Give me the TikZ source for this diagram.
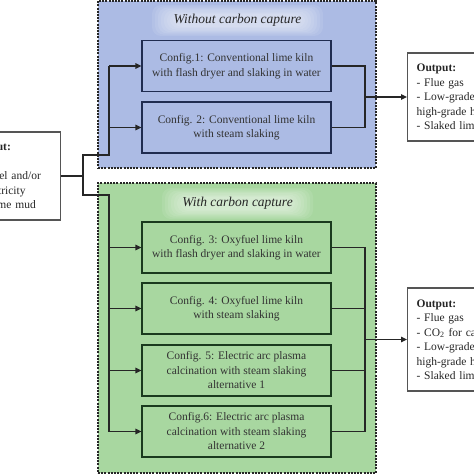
\documentclass[tikz,border=0pt]{standalone}
\usepackage{fontspec}
\setmainfont{Liberation Serif}
\usetikzlibrary{arrows.meta}
\definecolor{wofill}{RGB}{172,187,228}
\definecolor{wfill}{RGB}{168,215,160}
\definecolor{woline}{RGB}{32,44,80}
\definecolor{wline}{RGB}{26,58,30}
\definecolor{ioline}{RGB}{85,85,85}

\begin{document}
\begin{tikzpicture}[x=1pt, y=-1pt,
  region/.style={rectangle, draw=black!85, line width=1.6pt,
                 dash pattern=on 2pt off 1.2pt, inner sep=0pt},
  cfg/.style={rectangle, draw, line width=1.2pt, minimum width=189pt,
              minimum height=51pt, align=center, inner sep=2pt, text=black!80,
              font=\fontsize{11.5}{14.5}\selectfont},
  iobox/.style={rectangle, draw=ioline, line width=1.1pt, anchor=west,
                align=left, inner xsep=9pt, text=black!85,
                font=\fontsize{11.5}{14.5}\selectfont},
  ttl/.style={font=\fontsize{13.5}{16}\selectfont\itshape, text=black!85},
  glow/.style={fill=white, opacity=0.09, rounded corners=9pt},
  ln/.style={line width=1.2pt, draw=black!85},
  arr/.style={ln, -{Triangle[length=6pt,width=5.5pt]}}]

\useasboundingbox (0,0) rectangle (474,474);

%% Regions
\node[region, fill=wofill, minimum width=278pt, minimum height=167pt] (wo) at (237,84.5) {};
\node[region, fill=wfill, minimum width=278pt, minimum height=290pt] (wi) at (237,328) {};
\foreach \i in {0,...,7} {
  \fill[glow] (152+\i*3,5+\i*1.3) rectangle (323-\i*3,36-\i*1.3);
  \fill[glow] (162+\i*3,188+\i*1.3) rectangle (313-\i*3,219-\i*1.3);
}
\node[ttl] (two) at (237.5,20) {Without carbon capture};
\node[ttl] (twi) at (237.5,203) {With carbon capture};

%% Configurations
\node[cfg, draw=woline] (c1) at (236.5,66)  {Config.1: Conventional lime kiln\\with flash dryer and slaking in water};
\node[cfg, draw=woline] (c2) at (236.5,127.5) {Config. 2: Conventional lime kiln\\with steam slaking};
\node[cfg, draw=wline]  (c3) at (236.5,247.5) {Config. 3: Oxyfuel lime kiln\\with flash dryer and slaking in water};
\node[cfg, draw=wline]  (c4) at (236.5,308.5) {Config. 4: Oxyfuel lime kiln\\with steam slaking};
\node[cfg, draw=wline]  (c5) at (236.5,370.5) {Config. 5: Electric arc plasma\\calcination with steam slaking\\alternative 1};
\node[cfg, draw=wline]  (c6) at (236.5,431.5) {Config.6: Electric arc plasma\\calcination with steam slaking\\alternative 2};

%% Input and outputs
\node[iobox, text width=72pt, minimum height=88pt] (in) at (-30,176)
  {\textbf{Input:}\\[14.5pt]- Fuel and/or\\electricity\\- Lime mud};
\node[iobox, text width=100pt, minimum height=88pt] (out1) at (407,97)
  {\textbf{Output:}\\- Flue gas\\- Low-grade and/or\\high-grade heat\\- Slaked lime};
\node[iobox, text width=100pt, minimum height=103pt] (out2) at (407,339.5)
  {\textbf{Output:}\\- Flue gas\\- CO\textsubscript{2} for capture\\- Low-grade and/or\\high-grade heat\\- Slaked lime};

%% Connectors
\coordinate (sp) at (83,176);
\coordinate (tb) at (109,155);
\coordinate (tg) at (109,195);
\coordinate (mb) at (365,97);
\coordinate (mg) at (365,339.5);
\draw[ln] (in.east) -- (sp);
\draw[ln] (sp) |- (tb) -- (tb |- c1.west);
\draw[ln] (sp) |- (tg) -- (tg |- c6.west);
\draw[arr] (tb |- c1.west) -- (c1.west);
\draw[arr] (tb |- c2.west) -- (c2.west);
\foreach \c in {c3,c4,c5,c6}
  \draw[arr] (tg |- \c.west) -- (\c.west);
\draw[ln] (c1.east) -| (mb) |- (c2.east);
\draw[ln] (c3.east) -| (mg) |- (c6.east);
\draw[ln] (c4.east) -- (mg |- c4.east);
\draw[ln] (c5.east) -- (mg |- c5.east);
\draw[arr] (mb) -- (out1.west);
\draw[arr] (mg) -- (out2.west);
\end{tikzpicture}
\end{document}
